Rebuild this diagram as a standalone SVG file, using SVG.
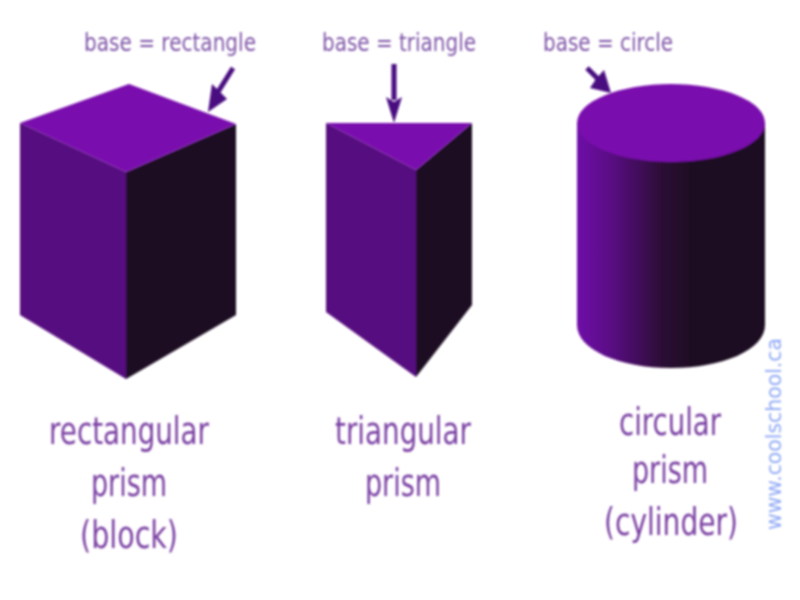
<svg xmlns="http://www.w3.org/2000/svg" width="800" height="600" viewBox="0 0 800 600">
<style>
.top{fill:#7a0eae}.mid{fill:#57097f}.dark{fill:#1f0a24}
.lab{font-family:"DejaVu Sans",sans-serif;fill:#7a3fa3;text-anchor:middle}
.base{font-size:25px;fill:#7f55a8}
.big{font-size:37px}
.arr{stroke:#4a0a80;stroke-width:5;fill:none}
.head{fill:#4a0a80}
</style>
<defs>
<linearGradient id="cyl" x1="0" x2="1" y1="0" y2="0">
<stop offset="0" stop-color="#6f0ca8"/>
<stop offset="0.2" stop-color="#57097f"/>
<stop offset="0.45" stop-color="#2c0836"/>
<stop offset="0.6" stop-color="#1f0a24"/>
<stop offset="1" stop-color="#1f0a24"/>
</linearGradient>
<filter id="soft" x="-5%" y="-5%" width="110%" height="110%"><feGaussianBlur stdDeviation="0.8"/></filter>
<filter id="softT" x="-5%" y="-5%" width="110%" height="110%"><feGaussianBlur stdDeviation="0.9"/></filter>
</defs>
<rect width="800" height="600" fill="#fff"/>
<g id="rectangular-prism" filter="url(#soft)">
<polygon class="mid" points="20,123 126,172 126,379 20,315"/>
<polygon class="dark" points="126,172 236,124 236,315 126,379"/>
<polygon class="top" points="20,123 129,84 236,124 126,172"/>
</g>
<g id="triangular-prism" filter="url(#soft)">
<polygon class="mid" points="326,123 416,170 416,377 326,312"/>
<polygon class="dark" points="416,170 472,123 472,305 416,377"/>
<polygon class="top" points="326,123 472,123 416,170"/>
</g>
<g id="circular-prism" filter="url(#soft)">
<path fill="url(#cyl)" d="M577,122 V325 C577,350 620,368 671,368 C722,368 765,350 765,325 V122 Z"/>
<ellipse class="top" cx="671" cy="123" rx="94" ry="39"/>
</g>
<g id="connectors" filter="url(#soft)">
<path class="arr" d="M233,68 L218,92"/>
<polygon class="head" points="208,112 212,84 220,92 227,99"/>
<path class="arr" d="M394,64 V100"/>
<polygon class="head" points="394,123 386,97 394,102 402,97"/>
<path class="arr" d="M587,68 L600,81"/>
<polygon class="head" points="611,93 590,88 596,79 604,70"/>
</g>
<g id="labels" class="lab" filter="url(#softT)">
<text class="lab base" x="170" y="51" textLength="172" lengthAdjust="spacingAndGlyphs">base = rectangle</text>
<text class="lab base" x="399" y="51" textLength="154" lengthAdjust="spacingAndGlyphs">base = triangle</text>
<text class="lab base" x="608" y="51" textLength="130" lengthAdjust="spacingAndGlyphs">base = circle</text>
<text class="lab big" x="129" y="444" textLength="160" lengthAdjust="spacingAndGlyphs">rectangular</text>
<text class="lab big" x="129" y="496" textLength="76" lengthAdjust="spacingAndGlyphs">prism</text>
<text class="lab big" x="129" y="548" textLength="98" lengthAdjust="spacingAndGlyphs">(block)</text>
<text class="lab big" x="403" y="444" textLength="136" lengthAdjust="spacingAndGlyphs">triangular</text>
<text class="lab big" x="403" y="496" textLength="76" lengthAdjust="spacingAndGlyphs">prism</text>
<text class="lab big" x="670" y="435" textLength="102" lengthAdjust="spacingAndGlyphs">circular</text>
<text class="lab big" x="670" y="483" textLength="76" lengthAdjust="spacingAndGlyphs">prism</text>
<text class="lab big" x="671" y="535" textLength="134" lengthAdjust="spacingAndGlyphs">(cylinder)</text>
<text x="0" y="0" transform="translate(781,434) rotate(-90)" style="font-size:21px;fill:#8fa8f5" textLength="192" lengthAdjust="spacingAndGlyphs">www.coolschool.ca</text>
</g>
</svg>
